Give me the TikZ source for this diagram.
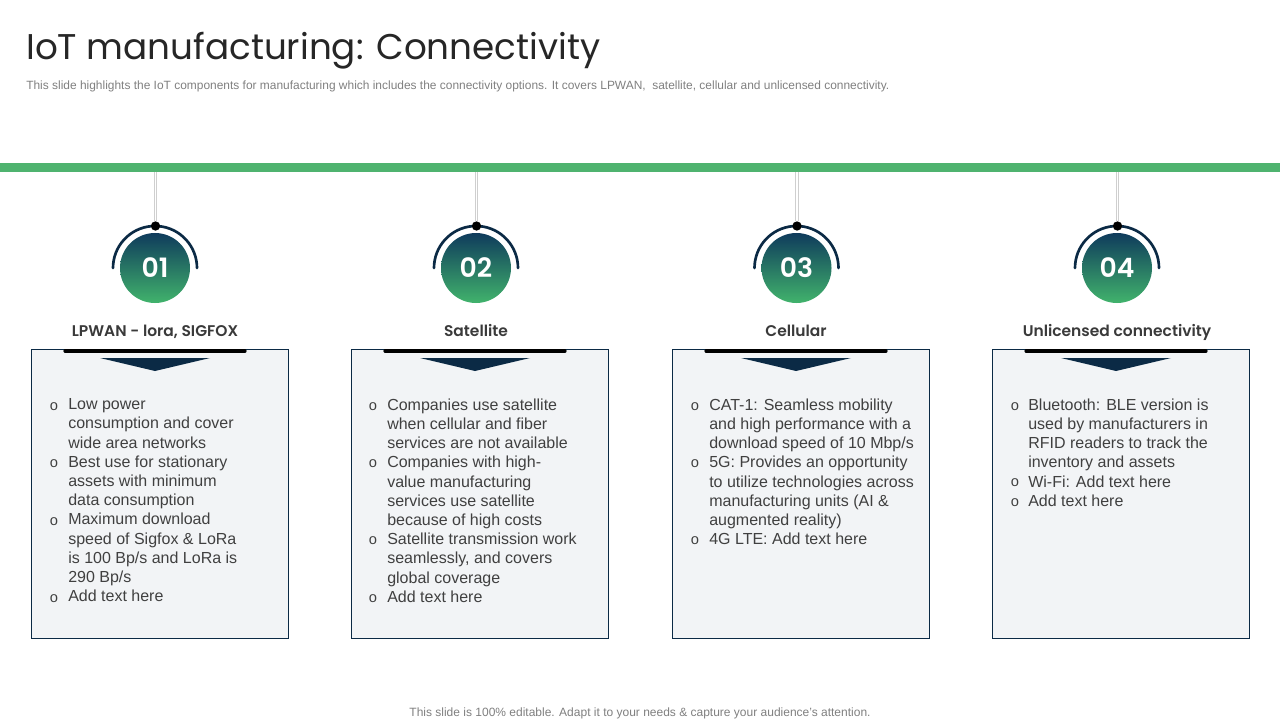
\documentclass[tikz,border=0pt]{standalone}
\usepackage{fontspec}
\setmainfont{Liberation Sans}
\newfontfamily\geo{Poppins}
\newfontfamily\geosb{Poppins SemiBold}
\usetikzlibrary{calc}
\definecolor{barG}{HTML}{4FB36F}
\definecolor{navy}{HTML}{0B2A45}
\definecolor{panelF}{HTML}{F2F4F6}
\definecolor{bodyT}{HTML}{404040}
\definecolor{headT}{HTML}{3A3A3A}
\definecolor{greyT}{HTML}{808080}
\definecolor{hang}{HTML}{CFCFCF}
\definecolor{gradT}{HTML}{0F3B5C}
\definecolor{gradB}{HTML}{41B36C}
\tikzset{
  x=0.75pt,y=-0.75pt,
  panel/.style={draw=navy,line width=0.75pt,fill=panelF,minimum width=192.75pt,minimum height=216.75pt,inner sep=0pt,anchor=north west},
  badge/.style={circle,minimum size=52.5pt,inner sep=0pt,top color=gradT,bottom color=gradB,text=white,font=\geosb\fontsize{20}{24}\selectfont},
  knob/.style={circle,fill=black,minimum size=7pt,inner sep=0pt},
  hanger/.style={draw=hang,line width=0.6pt,double=white,double distance=1.2pt},
  ring/.style={draw=navy,line width=2pt,line cap=round},
  headline/.style={font=\geosb\fontsize{11.6}{14}\selectfont,text=headT,anchor=base,inner sep=0pt},
  listtext/.style={font=\fontsize{12}{14.4}\selectfont,text=bodyT,align=left,anchor=north west,inner sep=0pt},
  dotmark/.style={font=\fontsize{11}{12}\selectfont,text=bodyT,anchor=base,inner sep=0pt},
  note/.style={font=\fontsize{8.96}{11}\selectfont,text=greyT,inner sep=0pt,anchor=base west},
}
\newcommand{\column}[4]{% id, left x of panel, badge centre x, number
  \node[panel] (panel#1) at (#2,349) {};
  \node[badge] (badge#1) at (#3,268) {#4};
  \draw[ring] ($(badge#1)+(-42,0)$) arc[start angle=180,end angle=265,radius=42];
  \draw[ring] ($(badge#1)+(42,0)$) arc[start angle=0,end angle=-85,radius=42];
  \node[knob] (knob#1) at (#3+0.5,226) {};
  \coordinate (top#1) at (#3+0.5,172);
  \draw[hanger] (top#1) -- (knob#1);
  \draw[line width=2.4pt,line cap=round,black] ($(panel#1.north west)+(34,2)$) -- ($(panel#1.north west)+(214,2)$);
  \fill[navy] ($(panel#1.north west)+(69,9)$) -- ($(panel#1.north west)+(179,9)$) -- ($(panel#1.north west)+(124,22)$) -- cycle;
}
\begin{document}
\begin{tikzpicture}
\useasboundingbox (0,0) rectangle (1280,720);
\fill[white] (0,0) rectangle (1280,720);
\node[font=\geo\fontsize{26.8}{32}\selectfont,text=black!85,anchor=base west,inner sep=0pt] (title) at (26,60) {IoT manufacturing: Connectivity};
\node[note] (sub) at (26,90) {This slide highlights the IoT components for manufacturing which includes the connectivity options. It covers LPWAN,\ \ satellite, cellular and unlicensed connectivity.};
\node[fill=barG,minimum width=960pt,minimum height=6.75pt,inner sep=0pt,anchor=north west] (bar) at (0,163) {};

\column{1}{31}{155}{01}
\column{2}{351}{476}{02}
\column{3}{672}{796.5}{03}
\column{4}{992}{1117}{04}

\node[headline] (h1) at (155,336) {LPWAN - lora, SIGFOX};
\node[headline] (h2) at (476,336) {Satellite};
\node[headline] (h3) at (796,336) {Cellular};
\node[headline] (h4) at (1117,336) {Unlicensed connectivity};

\node[listtext] (t1) at (68,398.5) {Low power\\consumption and cover\\wide area networks\\Best use for stationary\\assets with minimum\\data consumption\\Maximum download\\speed of Sigfox \& LoRa\\is 100 Bp/s and LoRa is\\290 Bp/s\\Add text here};
\node[listtext] (t2) at (387,398.5) {Companies use satellite\\when cellular and fiber\\services are not available\\Companies with high-\\value manufacturing\\services use satellite\\because of high costs\\Satellite transmission work\\seamlessly, and covers\\global coverage\\Add text here};
\node[listtext] (t3) at (709,398.5) {CAT-1: Seamless mobility\\and high performance with a\\download speed of 10 Mbp/s\\5G: Provides an opportunity\\to utilize technologies across\\manufacturing units (AI \&\\augmented reality)\\4G LTE: Add text here};
\node[listtext] (t4) at (1028,398.5) {Bluetooth: BLE version is\\used by manufacturers in\\RFID readers to track the\\inventory and assets\\Wi-Fi: Add text here\\Add text here};

\foreach \y/\n in {410/a,467/b,525/c,602/d} \node[dotmark] (ba\n) at (54,\y) {o};
\foreach \y/\n in {410/a,467/b,544/c,602/d} \node[dotmark] (bb\n) at (373,\y) {o};
\foreach \y/\n in {410/a,467/b,544/c} \node[dotmark] (bc\n) at (695,\y) {o};
\foreach \y/\n in {410/a,486/b,506/c} \node[dotmark] (bd\n) at (1015,\y) {o};

\node[note,anchor=base,font=\fontsize{9}{11}\selectfont] (foot) at (640,716) {This slide is 100\% editable. Adapt it to your needs \& capture your audience's attention.};
\end{tikzpicture}
\end{document}
